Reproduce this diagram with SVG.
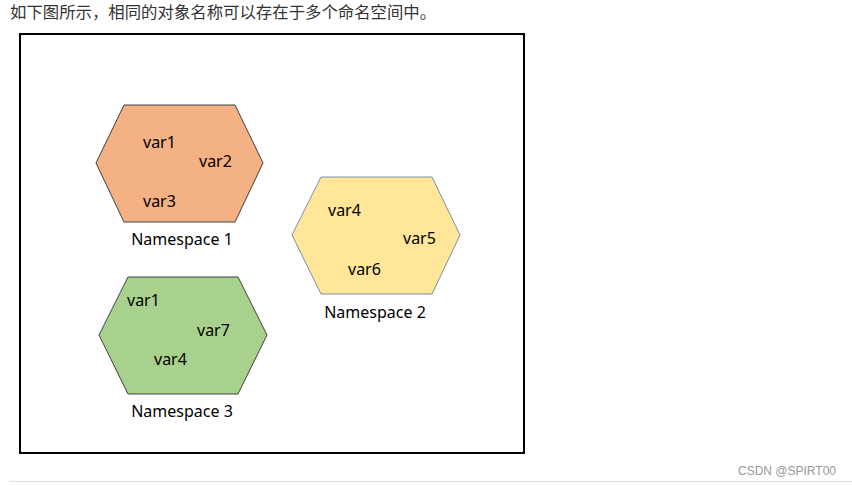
<svg xmlns="http://www.w3.org/2000/svg" width="852" height="486" viewBox="0 0 852 486">
<style>
.t{font-family:"Noto Sans","Liberation Sans",sans-serif;font-size:16px;fill:#000}
.title{font-family:"Microsoft YaHei","Noto Sans CJK SC",sans-serif;font-size:16.4px;fill:#333}
.hex{stroke-width:1}
</style>
<rect width="852" height="486" fill="#fff"/>
<text class="title" x="10" y="18">如下图所示，相同的对象名称可以存在于多个命名空间中。</text>
<rect x="20" y="34" width="504" height="419" fill="#fff" stroke="#000" stroke-width="2"/>
<g id="ns1">
<polygon class="hex" points="124,105 235,105 263,163 235,222 124,222 96,163" fill="#F4B183" stroke="#404040"/>
<text class="t" x="143" y="148">var1</text>
<text class="t" x="199" y="167">var2</text>
<text class="t" x="143" y="207">var3</text>
<text class="t" x="182" y="245" text-anchor="middle">Namespace 1</text>
</g>
<g id="ns2">
<polygon class="hex" points="321,177 432,177 460,235 432,294 321,294 292,235" fill="#FFE699" stroke="#7F8CA8"/>
<text class="t" x="328" y="216">var4</text>
<text class="t" x="403" y="244">var5</text>
<text class="t" x="348" y="275">var6</text>
<text class="t" x="375" y="318" text-anchor="middle">Namespace 2</text>
</g>
<g id="ns3">
<polygon class="hex" points="128,277 238,277 267,335 238,394 128,394 99,335" fill="#A9D18E" stroke="#404040"/>
<text class="t" x="127" y="306">var1</text>
<text class="t" x="197" y="336">var7</text>
<text class="t" x="154" y="365">var4</text>
<text class="t" x="182" y="417" text-anchor="middle">Namespace 3</text>
</g>
<g id="connectors"></g>
<text x="836" y="475" text-anchor="end" font-family="'Liberation Sans',sans-serif" font-size="12" fill="#999">CSDN @SPIRT00</text>
<line x1="10" y1="481.5" x2="852" y2="481.5" stroke="#ddd" stroke-width="1"/>
</svg>
